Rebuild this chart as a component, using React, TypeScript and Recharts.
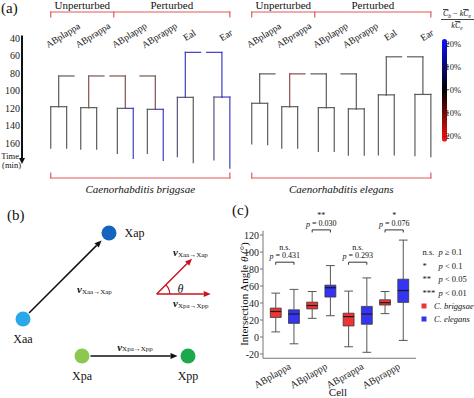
import React from "react";
import {
  ComposedChart,
  XAxis,
  YAxis,
  ReferenceLine,
  ReferenceArea,
  ReferenceDot,
  Scatter,
  Bar,
} from "recharts";

const FONT = "'Liberation Serif', 'Times New Roman', serif";

// ---------- (a) lineage trees ----------
const treeCells = ["ABplappa", "ABprappa", "ABplappp", "ABprappp", "Eal", "Ear"];
const stubSide = [1, 1, -1, -1, 1, -1];
const groupNames = ["Unperturbed", "Perturbed"];

// C. briggsae, times in min
const cbrDivide = [118.5, 119.6, 120.4, 121.5, 107.8, 107.5];
const cbrEndLeft = [166, 167, 171.8, 171.8, 175.6, 179.4];
const cbrEndRight = [166, 167, 177.5, 180, 182.5, 188.6];
const cbrParent = [83.4, 83.4, 83.4, 83.4, 56.4, 56.4];
// relative difference (%) that colours each branch
const cbrDiffParent = [0, -6, -6, -5, 14, 14];
const cbrDiffLeft = [0, 0, 0, 0, 4, 4];
const cbrDiffRight = [0, 0, 14, 14, 0, 14];

// C. elegans
const celDivide = [114.6, 118.5, 119.6, 121, 105, 104.5];
const celEndLeft = [161, 166, 169.5, 174, 173.7, 174.5];
const celEndRight = [162, 166, 169.5, 174, 173.7, 175.5];
const celParent = [81, 81, 81, 81, 61.5, 61.5];
const celDiffParent = [0, -7, 0, 0, 0, 0];
const celDiffLeft = [0, 0, 0, 0, 0, 0];
const celDiffRight = [0, 0, 0, 0, 0, 0];

const timeTicks = [40, 60, 80, 100, 120, 140, 160];
const diffTicks = [-20, -10, 0, 10, 20];

// ---------- (b) schematic ----------
const nodeNames = ["Xaa", "Xap", "Xpa", "Xpp"];
const nodeX = [2.3, 10.9, 8.2, 18.8];
const nodeY = [7.9, 16.5, 4.2, 4.2];
const NODE_FILL: Record<string, string> = {
  Xaa: "#2aa8ea",
  Xap: "#1565c0",
  Xpa: "#8cc850",
  Xpp: "#1ea84c",
};

// ---------- (c) intersection angles ----------
const boxCells = ["ABplappa", "ABplappp", "ABprappa", "ABprappp"];
const cbrMin = [6, 22, -11.5, 27.5];
const cbrQ1 = [23, 33, 13, 37.6];
const cbrMed = [30, 37, 24, 40.4];
const cbrQ3 = [34, 41, 28, 43.8];
const cbrMax = [51.6, 53.5, 54, 53.5];
const celMin = [-8, 25, -18, -4];
const celQ1 = [16, 47, 15, 40.7];
const celMed = [27, 58, 27, 54.7];
const celQ3 = [32, 61, 36, 68];
const celMax = [56, 84, 69.5, 114];
const pValues = ["0.431", "0.030", "0.293", "0.076"];
const sigMarks = ["n.s.", "**", "n.s.", "*"];
const sigLevel = [88, 126, 88, 126];
const angleTicks = [-20, 0, 20, 40, 60, 80, 100, 120];

const RED = "#ee3535";
const BLUE = "#3434f2";
const BRACKET = "#e05a5c";

const pairX = (i: number) => i + (i >= 2 ? 0.22 : 0) + (i >= 5 ? 0.22 : 0);
const HALF = 0.265;
const STUB = 0.51;

function diffColor(d: number) {
  const t = Math.min(1, Math.abs(d) / 20);
  const from = [92, 92, 92];
  const to = d >= 0 ? [50, 50, 245] : [230, 50, 50];
  const c = from.map((v, k) => Math.round(v + (to[k] - v) * t));
  return `rgb(${c.join(",")})`;
}

const arrowShape = (color: string, w: number, len: number, half: number) => (p: any) => {
  const { x1, y1, x2, y2 } = p;
  const a = Math.atan2(y2 - y1, x2 - x1);
  const bx = x2 - len * Math.cos(a);
  const by = y2 - len * Math.sin(a);
  const pts = `${x2},${y2} ${bx - half * Math.sin(a)},${by + half * Math.cos(a)} ${bx + half * Math.sin(a)},${by - half * Math.cos(a)}`;
  return (
    <g>
      <line x1={x1} y1={y1} x2={bx} y2={by} stroke={color} strokeWidth={w} />
      <polygon points={pts} fill={color} />
    </g>
  );
};

const textShape = (content: React.ReactNode, opts: any = {}) => (p: any) => {
  const { rotate, ...rest } = opts;
  return (
    <text
      x={p.cx}
      y={p.cy}
      fill="#111"
      transform={rotate ? `rotate(${rotate} ${p.cx} ${p.cy})` : undefined}
      {...rest}
    >
      {content}
    </text>
  );
};

type Seg = { a: [number, number]; b: [number, number]; color: string; w?: number };

function Tree(props: any) {
  const { divide, endL, endR, parent, dParent, dLeft, dRight, species, axis } = props;
  const segs: Seg[] = [];
  treeCells.forEach((_, i) => {
    const cx = pairX(i);
    const xl = cx - HALF;
    const xr = cx + HALF;
    segs.push({ a: [xl, divide[i]], b: [xl, endL[i]], color: diffColor(dLeft[i]) });
    segs.push({ a: [xr, divide[i]], b: [xr, endR[i]], color: diffColor(dRight[i]) });
    segs.push({ a: [xl, divide[i]], b: [cx, divide[i]], color: diffColor(dLeft[i]) });
    segs.push({ a: [cx, divide[i]], b: [xr, divide[i]], color: diffColor(dRight[i]) });
    segs.push({ a: [cx, divide[i]], b: [cx, parent[i]], color: diffColor(dParent[i]) });
    segs.push({
      a: [cx, parent[i]],
      b: [cx + stubSide[i] * STUB, parent[i]],
      color: diffColor(dParent[i]),
    });
  });
  const x0 = pairX(0) - HALF;
  const xm = pairX(2) - HALF - 0.12;
  const x1 = pairX(5) + HALF;
  const top = 10.3;
  const topEnd = 16;
  const bot = 200;
  const botEnd = 194.3;
  const red: Seg[] = [
    { a: [x0, topEnd], b: [x0, top], color: BRACKET },
    { a: [x0, top], b: [x1, top], color: BRACKET },
    { a: [xm, top], b: [xm, topEnd], color: BRACKET },
    { a: [x1, top], b: [x1, topEnd], color: BRACKET },
    { a: [x0, botEnd], b: [x0, bot], color: BRACKET },
    { a: [x0, bot], b: [x1, bot], color: BRACKET },
    { a: [x1, bot], b: [x1, botEnd], color: BRACKET },
  ];
  const domainX: [number, number] = [-1.223, 6.043];
  return (
    <ComposedChart
      width={axis ? 240 : 218}
      height={200}
      margin={{ top: 36.25, right: 0, bottom: 34.25, left: 0 }}
    >
      <XAxis type="number" dataKey="x" domain={domainX} hide allowDataOverflow />
      <YAxis
        type="number"
        domain={[38, 186]}
        reversed
        hide={!axis}
        width={22}
        ticks={timeTicks}
        interval={0}
        axisLine={false}
        tickLine={false}
        tickSize={2}
        tickMargin={0}
        tick={{ fontSize: 10, fill: "#222", fontFamily: FONT }}
        allowDataOverflow
      />
      {axis && (
        <ReferenceLine
          segment={[{ x: domainX[0], y: 37 }, { x: domainX[0], y: 184 }]}
          shape={arrowShape("#111", 2, 6, 3)}
          ifOverflow="visible"
        />
      )}
      {segs.concat(red).map((s, k) => (
        <ReferenceLine
          key={k}
          segment={[{ x: s.a[0], y: s.a[1] }, { x: s.b[0], y: s.b[1] }]}
          stroke={s.color}
          strokeWidth={1.2}
          strokeLinecap="square"
          ifOverflow="visible"
        />
      ))}
      {treeCells.map((c, i) => (
        <ReferenceDot
          key={c}
          x={pairX(i) + 0.14}
          y={37}
          ifOverflow="visible"
          shape={textShape(c, {
            rotate: -32,
            fontSize: 9.5,
            textAnchor: "middle",
            dominantBaseline: "central",
          })}
        />
      ))}
      <ReferenceDot
        x={(x0 + xm) / 2}
        y={6.9}
        ifOverflow="visible"
        shape={textShape(groupNames[0], { fontSize: 11, textAnchor: "middle" })}
      />
      <ReferenceDot
        x={(xm + x1) / 2}
        y={6.9}
        ifOverflow="visible"
        shape={textShape(groupNames[1], { fontSize: 11, textAnchor: "middle" })}
      />
      <ReferenceDot
        x={(x0 + x1) / 2}
        y={217}
        ifOverflow="visible"
        shape={textShape(species, { fontSize: 11, textAnchor: "middle", fontStyle: "italic" })}
      />
    </ComposedChart>
  );
}

function ColourBar() {
  const data = [{ k: "bar", v: [-22.5, 22] }];
  const tick = (p: any) => (
    <text
      x={461 - 442}
      y={p.y}
      textAnchor="end"
      dominantBaseline="central"
      fontSize={8.5}
      fill="#222"
      fontFamily={FONT}
    >
      {p.payload.value}%
    </text>
  );
  return (
    <ComposedChart
      width={32}
      height={160}
      data={data}
      barCategoryGap={0}
      margin={{ top: 39, right: 0, bottom: 18.3, left: 0 }}
    >
      <defs>
        <linearGradient id="cbar" x1="0" y1="0" x2="0" y2="1">
          <stop offset="0" stopColor="#1010ff" />
          <stop offset="0.5" stopColor="#000000" />
          <stop offset="1" stopColor="#ff1010" />
        </linearGradient>
      </defs>
      <XAxis dataKey="k" hide />
      <YAxis
        orientation="right"
        width={27}
        domain={[-22.5, 22]}
        ticks={diffTicks}
        interval={0}
        axisLine={false}
        tickSize={2}
        tickLine={{ stroke: "#444" }}
        tick={tick}
        allowDataOverflow
      />
      <Bar dataKey="v" fill="url(#cbar)" radius={2.5} isAnimationActive={false} />
    </ComposedChart>
  );
}

function Vectors() {
  const nodes = nodeNames.map((n, i) => ({ name: n, x: nodeX[i], y: nodeY[i] }));
  const links = [
    [0, 1],
    [2, 3],
  ];
  const shrink = (a: number, b: number, s0: number, s1: number) => {
    const dx = nodeX[b] - nodeX[a];
    const dy = nodeY[b] - nodeY[a];
    const L = Math.hypot(dx, dy);
    const ux = dx / L;
    const uy = dy / L;
    return [
      { x: nodeX[a] + ux * s0, y: nodeY[a] + uy * s0 },
      { x: nodeX[b] - ux * s1, y: nodeY[b] - uy * s1 },
    ];
  };
  const unit = (a: number, b: number) => {
    const dx = nodeX[b] - nodeX[a];
    const dy = nodeY[b] - nodeY[a];
    const L = Math.hypot(dx, dy);
    return [dx / L, dy / L];
  };
  const origin = { x: 15.67, y: 10.4 };
  const u1 = unit(0, 1);
  const u2 = unit(2, 3);
  const vec = (sub: string) => (
    <>
      <tspan fontWeight="bold" fontStyle="italic" fontSize={11}>
        v
      </tspan>
      <tspan fontSize={7} dy={2.5}>
        {sub}
      </tspan>
    </>
  );
  const mid1 = { x: (nodeX[0] + nodeX[1]) / 2, y: (nodeY[0] + nodeY[1]) / 2 };
  const mid2 = { x: (nodeX[2] + nodeX[3]) / 2, y: (nodeY[2] + nodeY[3]) / 2 };
  const DARK_RED = "#c8141e";
  return (
    <ComposedChart width={240} height={198} margin={{ top: 0, right: 0, bottom: 0, left: 0 }}>
      <XAxis type="number" dataKey="x" domain={[0, 24]} hide allowDataOverflow />
      <YAxis type="number" dataKey="y" domain={[0, 19.8]} hide allowDataOverflow />
      {links.map(([a, b], k) => (
        <ReferenceLine
          key={k}
          segment={shrink(a, b, 0.85, 1.05)}
          shape={arrowShape("#111", 1.5, 7, 3)}
          ifOverflow="visible"
        />
      ))}
      <ReferenceLine
        segment={[origin, { x: origin.x + u1[0] * 5, y: origin.y + u1[1] * 5 }]}
        shape={arrowShape(DARK_RED, 1.5, 7, 3)}
        ifOverflow="visible"
      />
      <ReferenceLine
        segment={[origin, { x: origin.x + u2[0] * 5.4, y: origin.y + u2[1] * 5.4 }]}
        shape={arrowShape(DARK_RED, 1.5, 7, 3)}
        ifOverflow="visible"
      />
      <ReferenceDot
        x={origin.x}
        y={origin.y}
        ifOverflow="visible"
        shape={(p: any) => {
          const r = 13;
          const a = Math.atan2(u1[1], u1[0]);
          return (
            <path
              d={`M ${p.cx + r} ${p.cy} A ${r} ${r} 0 0 0 ${p.cx + r * Math.cos(a)} ${p.cy - r * Math.sin(a)}`}
              fill="none"
              stroke={DARK_RED}
              strokeWidth={1.2}
            />
          );
        }}
      />
      <Scatter
        data={nodes}
        isAnimationActive={false}
        shape={(p: any) => (
          <circle cx={p.cx} cy={p.cy} r={7.5} fill={NODE_FILL[p.payload.name]} />
        )}
      />
      {nodes.map((n) => {
        const right = n.name === "Xap";
        return (
          <ReferenceDot
            key={n.name}
            x={right ? n.x + 1.55 : n.x}
            y={right ? n.y : n.y - 2}
            ifOverflow="visible"
            shape={textShape(n.name, {
              fontSize: 12,
              textAnchor: right ? "start" : "middle",
              dominantBaseline: "central",
            })}
          />
        );
      })}
      <ReferenceDot
        x={mid1.x + 1.1}
        y={mid1.y - 1.3}
        ifOverflow="visible"
        shape={textShape(vec("Xaa→Xap"), { dominantBaseline: "central" })}
      />
      <ReferenceDot
        x={mid2.x}
        y={mid2.y + 0.93}
        ifOverflow="visible"
        shape={textShape(vec("Xpa→Xpp"), { dominantBaseline: "central", textAnchor: "middle" })}
      />
      <ReferenceDot
        x={17.3}
        y={14.6}
        ifOverflow="visible"
        shape={textShape(vec("Xaa→Xap"), { dominantBaseline: "central" })}
      />
      <ReferenceDot
        x={17.3}
        y={9.5}
        ifOverflow="visible"
        shape={textShape(vec("Xpa→Xpp"), { dominantBaseline: "central" })}
      />
      <ReferenceDot
        x={17.75}
        y={10.95}
        ifOverflow="visible"
        shape={textShape("θ", { fontSize: 12, fontStyle: "italic", dominantBaseline: "central" })}
      />
    </ComposedChart>
  );
}

function Angles() {
  const series = [
    { off: -0.25, fill: RED, min: cbrMin, q1: cbrQ1, med: cbrMed, q3: cbrQ3, max: cbrMax },
    { off: 0.25, fill: BLUE, min: celMin, q1: celQ1, med: celMed, q3: celQ3, max: celMax },
  ];
  const BOX = 0.15;
  const CAP = 0.12;
  const lines: Seg[] = [];
  const boxes: { x1: number; x2: number; y1: number; y2: number; fill: string }[] = [];
  series.forEach((s) => {
    boxCells.forEach((_, i) => {
      const x = i + 1 + s.off;
      lines.push({ a: [x, s.min[i]], b: [x, s.q1[i]], color: "#555", w: 1 });
      lines.push({ a: [x, s.q3[i]], b: [x, s.max[i]], color: "#555", w: 1 });
      lines.push({ a: [x - CAP, s.min[i]], b: [x + CAP, s.min[i]], color: "#555", w: 1 });
      lines.push({ a: [x - CAP, s.max[i]], b: [x + CAP, s.max[i]], color: "#555", w: 1 });
      boxes.push({ x1: x - BOX, x2: x + BOX, y1: s.q1[i], y2: s.q3[i], fill: s.fill });
    });
  });
  const medians: Seg[] = [];
  series.forEach((s) =>
    boxCells.forEach((_, i) => {
      const x = i + 1 + s.off;
      medians.push({ a: [x - BOX, s.med[i]], b: [x + BOX, s.med[i]], color: "#1a1a1a", w: 1.2 });
    })
  );
  const sig: Seg[] = [];
  boxCells.forEach((_, i) => {
    const xa = i + 1 - 0.25;
    const xb = i + 1 + 0.25;
    const y = sigLevel[i];
    sig.push({ a: [xa, y - 3], b: [xa, y], color: "#333", w: 1 });
    sig.push({ a: [xa, y], b: [xb, y], color: "#333", w: 1 });
    sig.push({ a: [xb, y], b: [xb, y - 3], color: "#333", w: 1 });
  });
  const xTick = (p: any) => {
    const tx = p.x + 5;
    const ty = 358.25 - 200 + 7;
    return (
      <text
        x={tx}
        y={ty}
        textAnchor="end"
        dominantBaseline="central"
        fontSize={10}
        fill="#222"
        fontFamily={FONT}
        transform={`rotate(-30 ${tx} ${ty})`}
      >
        {boxCells[p.payload.value - 1]}
      </text>
    );
  };
  return (
    <ComposedChart width={180} height={198} margin={{ top: 30.75, right: 4, bottom: 0, left: 0 }}>
      <XAxis
        type="number"
        dataKey="x"
        domain={[0.4, 4.6]}
        ticks={[1, 2, 3, 4]}
        interval={0}
        height={39.75}
        axisLine={{ stroke: "#777" }}
        tickLine={false}
        tick={xTick}
        allowDataOverflow
      />
      <YAxis
        type="number"
        domain={[-25, 125]}
        ticks={angleTicks}
        interval={0}
        width={23}
        axisLine={{ stroke: "#777" }}
        tickLine={{ stroke: "#777" }}
        tickSize={3}
        tickMargin={1}
        tick={{ fontSize: 10, fill: "#222", fontFamily: FONT }}
        allowDataOverflow
      />
      {lines.map((s, k) => (
        <ReferenceLine
          key={"w" + k}
          segment={[{ x: s.a[0], y: s.a[1] }, { x: s.b[0], y: s.b[1] }]}
          stroke={s.color}
          strokeWidth={s.w}
          ifOverflow="visible"
        />
      ))}
      {boxes.map((b, k) => (
        <ReferenceArea
          key={"b" + k}
          x1={b.x1}
          x2={b.x2}
          y1={b.y1}
          y2={b.y2}
          fill={b.fill}
          fillOpacity={1}
          stroke="#3a3a3a"
          strokeWidth={0.8}
          ifOverflow="visible"
        />
      ))}
      {medians.concat(sig).map((s, k) => (
        <ReferenceLine
          key={"m" + k}
          segment={[{ x: s.a[0], y: s.a[1] }, { x: s.b[0], y: s.b[1] }]}
          stroke={s.color}
          strokeWidth={s.w}
          ifOverflow="visible"
        />
      ))}
      {boxCells.map((c, i) => (
        <ReferenceDot
          key={"s" + c}
          x={i + 1}
          y={sigLevel[i] + 17}
          ifOverflow="visible"
          shape={textShape(sigMarks[i], {
            fontSize: 8,
            textAnchor: "middle",
            dominantBaseline: "central",
          })}
        />
      ))}
      {boxCells.map((c, i) => (
        <ReferenceDot
          key={"p" + c}
          x={i + 1}
          y={sigLevel[i] + 7.5}
          ifOverflow="visible"
          shape={textShape(
            <>
              <tspan fontStyle="italic">p</tspan> = {pValues[i]}
            </>,
            { fontSize: 8, textAnchor: "middle", dominantBaseline: "central" }
          )}
        />
      ))}
      <Scatter
        data={boxCells.map((c, i) => ({ x: i + 1, y: cbrMed[i] }))}
        isAnimationActive={false}
        fill="none"
        shape={() => <g />}
      />
    </ComposedChart>
  );
}

export default function App() {
  const legend = [
    ["n.s.", "≥ 0.1"],
    ["*", "< 0.1"],
    ["**", "< 0.05"],
    ["***", "< 0.01"],
  ];
  return (
    <div
      style={{
        position: "absolute",
        left: 0,
        top: 0,
        width: 474,
        height: 398,
        background: "#fff",
        fontFamily: FONT,
        overflow: "hidden",
      }}
    >
      <div style={{ position: "absolute", left: 0, top: 0 }}>
        <Tree
          axis
          divide={cbrDivide}
          endL={cbrEndLeft}
          endR={cbrEndRight}
          parent={cbrParent}
          dParent={cbrDiffParent}
          dLeft={cbrDiffLeft}
          dRight={cbrDiffRight}
          species="Caenorhabditis briggsae"
        />
      </div>
      <div style={{ position: "absolute", left: 222.5, top: 0 }}>
        <Tree
          divide={celDivide}
          endL={celEndLeft}
          endR={celEndRight}
          parent={celParent}
          dParent={celDiffParent}
          dLeft={celDiffLeft}
          dRight={celDiffRight}
          species="Caenorhabditis elegans"
        />
      </div>
      <div style={{ position: "absolute", left: 442, top: 0 }}>
        <ColourBar />
      </div>
      <div style={{ position: "absolute", left: 0, top: 200 }}>
        <Vectors />
      </div>
      <div style={{ position: "absolute", left: 240, top: 200 }}>
        <Angles />
      </div>
      <svg
        width={474}
        height={398}
        style={{ position: "absolute", left: 0, top: 0, pointerEvents: "none" }}
        fontFamily={FONT}
      >
        <text x={1} y={13} fontSize={15} fill="#111">(a)</text>
        <text x={7} y={220} fontSize={15} fill="#111">(b)</text>
        <text x={232} y={215} fontSize={15} fill="#111">(c)</text>
        <text x={19} y={159} fontSize={8.5} textAnchor="end" fill="#111">Time</text>
        <text x={21} y={168} fontSize={8.5} textAnchor="end" fill="#111">(min)</text>
        <g fontSize={8} fontStyle="italic" fill="#111">
          <text x={457} y={16} textAnchor="middle">
            <tspan style={{ textDecoration: "overline" }}>C</tspan>
            <tspan fontSize={5.5} dy={1.5}>b</tspan>
            <tspan dy={-1.5} fontStyle="normal"> − </tspan>
            <tspan>k</tspan>
            <tspan style={{ textDecoration: "overline" }}>C</tspan>
            <tspan fontSize={5.5} dy={1.5}>e</tspan>
          </text>
          <line x1={441} y1={19.5} x2={474} y2={19.5} stroke="#111" strokeWidth={0.8} />
          <text x={457} y={28} textAnchor="middle">
            <tspan>k</tspan>
            <tspan style={{ textDecoration: "overline" }}>C</tspan>
            <tspan fontSize={5.5} dy={1.5}>e</tspan>
          </text>
        </g>
        <text
          x={244}
          y={294}
          fontSize={11}
          textAnchor="middle"
          dominantBaseline="central"
          fill="#111"
          transform="rotate(-90 244 294)"
        >
          Intersection Angle <tspan fontStyle="italic">θ</tspan> (°)
        </text>
        <text x={338} y={396} fontSize={11} textAnchor="middle" fill="#111">Cell</text>
        <g fontSize={8.5} fill="#111">
          {legend.map(([m, t], k) => (
            <g key={m}>
              <text x={422.5} y={252 + k * 13.5} dominantBaseline="central">{m}</text>
              <text x={438.5} y={252 + k * 13.5} dominantBaseline="central">
                <tspan fontStyle="italic">p</tspan> {t}
              </text>
            </g>
          ))}
          <rect x={421.5} y={303.5} width={5} height={5} fill={RED} />
          <text x={434} y={306} dominantBaseline="central" fontStyle="italic">C. briggsae</text>
          <rect x={421.5} y={316.5} width={5} height={5} fill={BLUE} />
          <text x={434} y={319} dominantBaseline="central" fontStyle="italic">C. elegans</text>
        </g>
      </svg>
    </div>
  );
}
